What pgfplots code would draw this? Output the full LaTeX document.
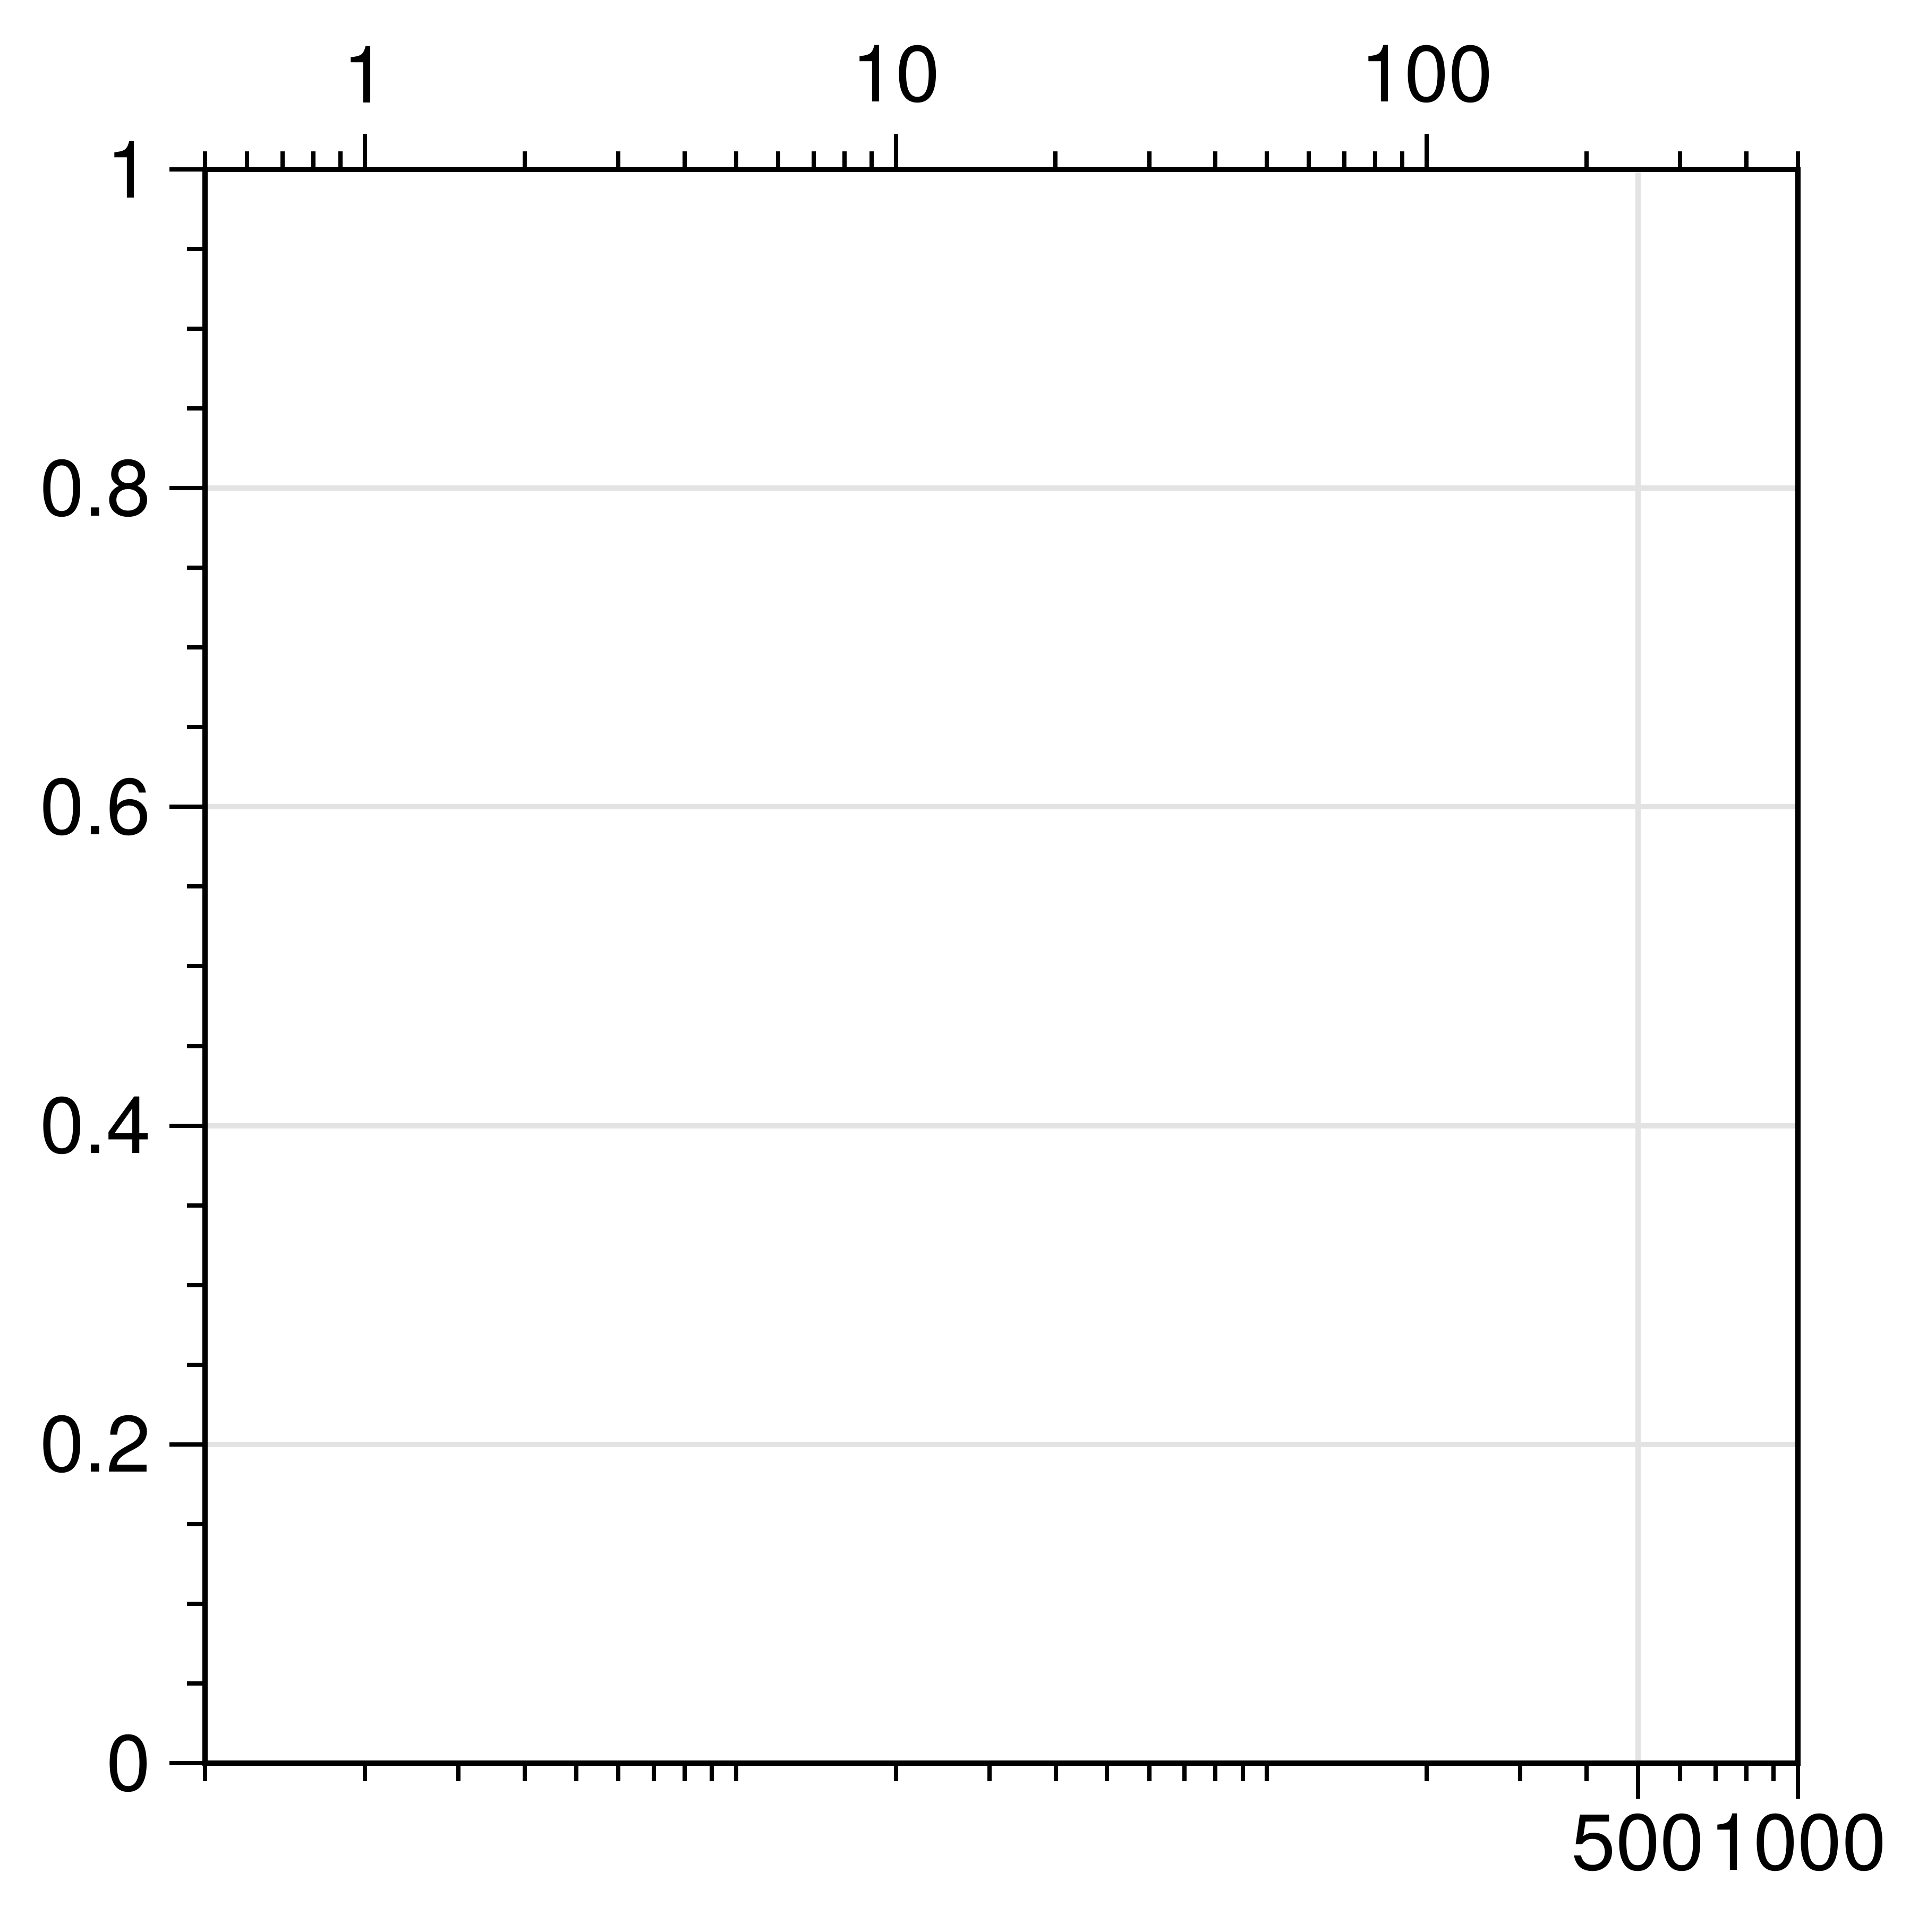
\documentclass[border=0pt]{standalone}
\usepackage{fontspec}
\setmainfont{TeX Gyre Heros}
\usepackage{pgfplots}
\pgfplotsset{compat=1.18}
\begin{document}
\begin{tikzpicture}
\pgfplotsset{
  common/.style={
    width=299.9pt, height=300.1pt, scale only axis,
    tick align=outside,
    major tick length=6.7pt, minor tick length=3.4pt,
    every tick/.style={black, line width=0.8pt},
    tick label style={font=\fontsize{15}{18}\selectfont},
    /pgf/number format/assume math mode=true,
    axis line style={line width=1pt},
  }
}
\begin{axis}[common, name=main,
  xmode=log, xmin=1, xmax=1000, ymin=0, ymax=1,
  xtick={500,1000}, xticklabels={500,1000},
  minor xtick={1,2,3,4,5,6,7,8,9,10,20,30,40,50,60,70,80,90,100,200,300,400,500,600,700,800,900},
  xtick pos=bottom, ytick pos=left,
  xticklabel style={yshift=0.7pt},
  ytick={0,0.2,0.4,0.6,0.8,1},
  yticklabels={0,0.2,0.4,0.6,0.8,1},
  minor y tick num=3,
  xmajorgrids, ymajorgrids,
  major grid style={line width=1pt, color=black!11},
]
\end{axis}
\begin{axis}[common,
  xmode=log, xmin=0.5, xmax=500, ymin=0, ymax=1,
  axis x line*=top, axis y line=none,
  xtick={1,10,100}, xticklabels={1,10,100},
  xticklabel style={yshift=2.3pt},
  minor xtick={0.5,0.6,0.7,0.8,0.9,2,3,4,5,6,7,8,9,20,30,40,50,60,70,80,90,200,300,400,500},
  ytick=\empty,
]
\end{axis}
\pgfresetboundingbox
\path[use as bounding box] ([shift={(-38.6pt,-31.8pt)}]main.south west) rectangle ([shift={(24.3pt,31.9pt)}]main.north east);
\end{tikzpicture}
\end{document}
